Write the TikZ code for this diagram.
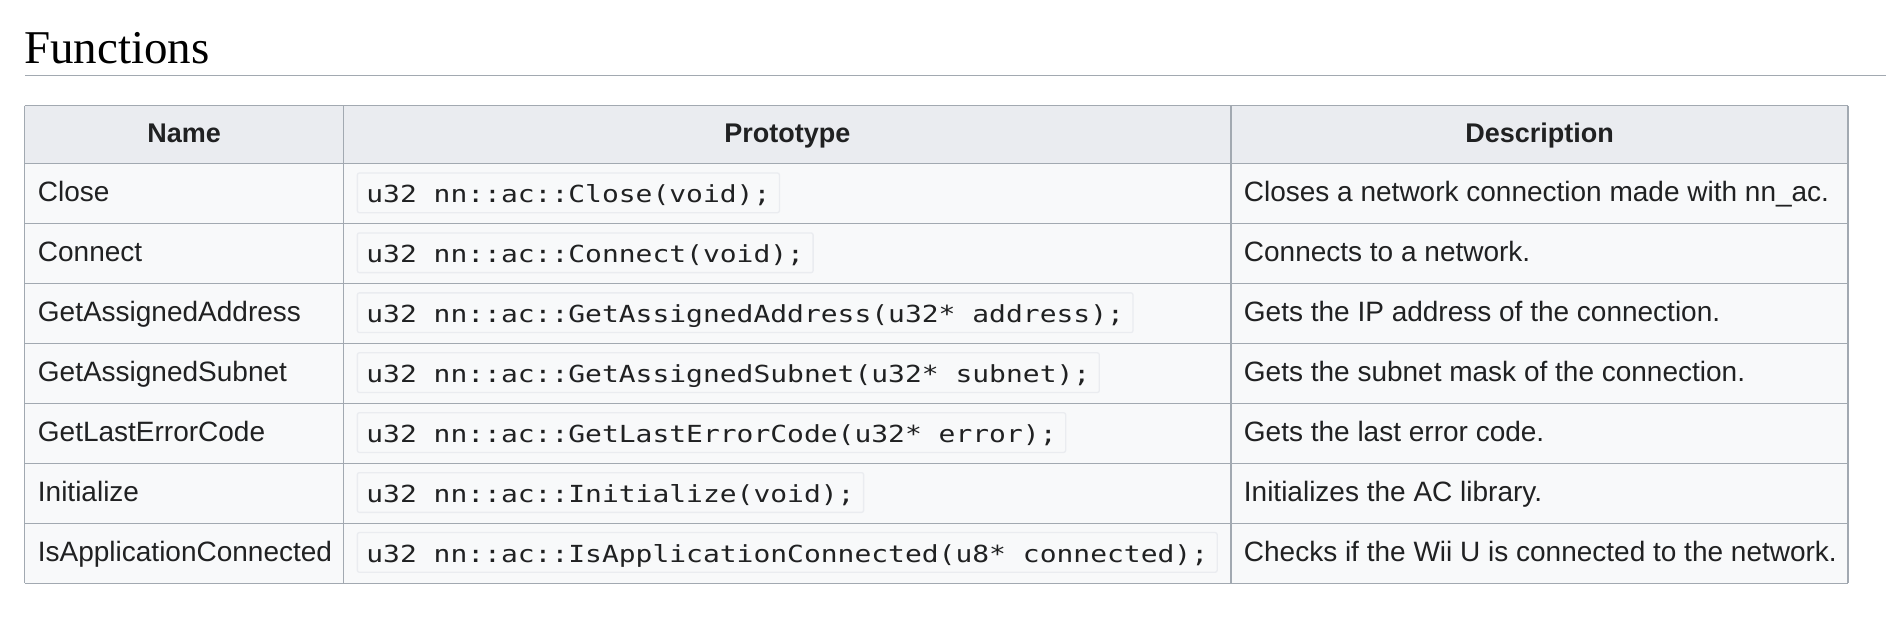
\documentclass[tikz,border=0pt]{standalone}
\usepackage{fontspec}
\setmainfont{Liberation Sans}
\newfontfamily\headfont{Liberation Serif}
\newfontfamily\codefont{DejaVu Sans Mono}[FakeStretch=1.19]
\definecolor{txt}{HTML}{202122}
\definecolor{border}{HTML}{A2A9B1}
\definecolor{headbg}{HTML}{EAECF0}
\definecolor{rowbg}{HTML}{F8F9FA}
\definecolor{codeborder}{HTML}{EAECF0}
\tikzset{
  cell/.style={anchor=base west, inner sep=0pt, text=txt, font=\fontsize{28}{32}\selectfont},
  headcell/.style={anchor=base, inner sep=0pt, text=txt, font=\fontsize{27}{32}\selectfont\bfseries},
  codebox/.style={anchor=base west, inner xsep=9pt, inner ysep=0pt, text height=29.7pt, text depth=10pt,
    draw=codeborder, fill=rowbg, line width=1.3pt, rounded corners=2pt, text=txt,
    font=\codefont\fontsize{23.5}{28}\selectfont},
  grid/.style={draw=border, line width=1.3pt},
}
\begin{document}
\begin{tikzpicture}[x=1pt,y=-1pt]
\useasboundingbox (0,0) rectangle (1886,628);
% heading
\node[anchor=base west, inner sep=0pt, font=\headfont\fontsize{47}{50}\selectfont, text=black] (title) at (24,63.3) {Functions};
\draw[border, line width=1.3pt] (25,75.7) -- (1886,75.7);
% backgrounds
\fill[headbg] (24.5,105.7) rectangle (1848,163.7);
\fill[rowbg] (24.5,163.7) rectangle (1848,583.2);
% grid
\foreach \y in {105.7,163.7,223.6,283.6,343.5,403.4,463.4,523.3,583.2}
  \draw[grid] (24.5,\y) -- (1848,\y);
\foreach \x in {24.5,343.7,1231,1848}
  \draw[grid] (\x,105.7) -- (\x,583.2);
% header
\node[headcell] (hname) at (184.1,142.7) {Name};
\node[headcell] (hproto) at (787.4,142.7) {Prototype};
\node[headcell] (hdesc) at (1539.5,142.7) {Description};
% rows
\foreach \i/\n/\c/\d in {
 0/Close/{u32 nn::ac::Close(void);}/{Closes a network connection made with nn\_ac.},
 1/Connect/{u32 nn::ac::Connect(void);}/{Connects to a network.},
 2/GetAssignedAddress/{u32 nn::ac::GetAssignedAddress(u32* address);}/{Gets the IP address of the connection.},
 3/GetAssignedSubnet/{u32 nn::ac::GetAssignedSubnet(u32* subnet);}/{Gets the subnet mask of the connection.},
 4/GetLastErrorCode/{u32 nn::ac::GetLastErrorCode(u32* error);}/{Gets the last error code.},
 5/Initialize/{u32 nn::ac::Initialize(void);}/{Initializes the AC library.},
 6/IsApplicationConnected/{u32 nn::ac::IsApplicationConnected(u8* connected);}/{Checks if the Wii U is connected to the network.}}
{
  \pgfmathsetmacro\rt{163.7+59.93*\i}
  \node[cell] (name\i) at (37.7,\rt+38) {\n};
  \node[codebox] (code\i) at (356.7,\rt+39) {\c};
  \node[cell] (desc\i) at (1243.7,\rt+38) {\d};
}
\end{tikzpicture}
\end{document}
